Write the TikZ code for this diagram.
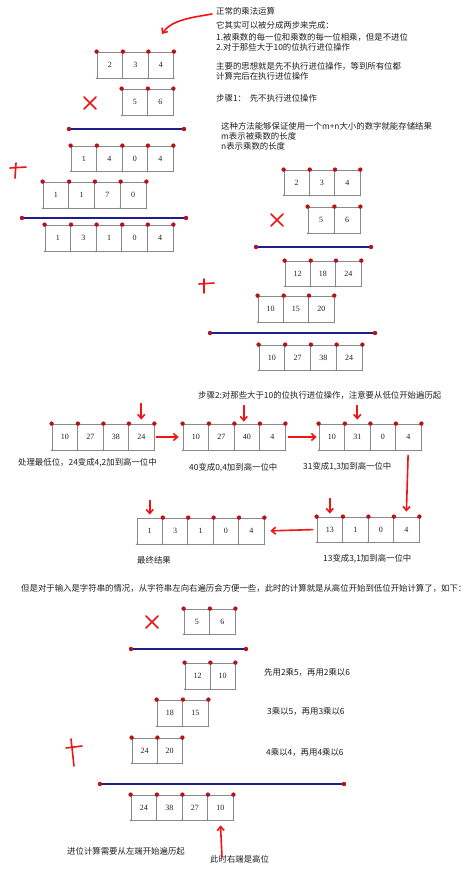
\documentclass[tikz,border=0pt]{standalone}
\usepackage{fontspec}
\setmainfont{Liberation Serif}
\newfontfamily\cjk{Noto Sans CJK SC}
\usetikzlibrary{arrows.meta}
\definecolor{cellgray}{HTML}{8A8A8A}
\definecolor{dotred}{HTML}{B5121B}
\definecolor{lineblue}{HTML}{1E1E8C}
\definecolor{handred}{HTML}{F01414}
\definecolor{txt}{HTML}{202020}
\newif\iffirstdot \firstdottrue
\tikzset{
  cellbox/.style={draw=cellgray, line width=0.8pt, inner sep=0pt, font=\fontsize{8}{9}\selectfont, text=txt},
  txtnode/.style={anchor=west, inner sep=0pt, font=\cjk\fontsize{8.4}{10}\selectfont, text=txt},
  handpen/.style={draw=handred, line width=1.6pt, line cap=round, line join=round},
  handarrow/.style={handpen, -{Straight Barb[length=4pt,width=7pt]}},
  blueline/.style={draw=lineblue, line width=1.5pt},
}
\newcommand\cellrow[6]{%
  \foreach \v [count=\i] in {#6} {
    \node[cellbox, minimum width=#4pt, minimum height=#5pt] (#1-\i) at ({#2+(\i-0.5)*#4},{#3+#5/2}) {\v};
  }
  \foreach \v [count=\i] in {#6} {
    \fill[dotred] (#1-\i.north east) circle (2.2pt);
    \fill[cellgray] (#1-\i.south west) circle (0.9pt);
    \fill[cellgray] (#1-\i.south east) circle (0.9pt);
  }
  \iffirstdot\fill[dotred] (#1-1.north west) circle (2.2pt);\fi
}
\newcommand\bluebar[3]{%
  \coordinate (bl#1) at (#2,#3);
}
\newcommand\sumline[4]{% name, x1, x2, y
  \coordinate (#1a) at (#2,#4);
  \coordinate (#1b) at (#3,#4);
  \draw[blueline] (#1a) -- (#1b);
  \fill[dotred] (#1a) circle (2.2pt);
  \fill[dotred] (#1b) circle (2.2pt);
}
\begin{document}
\begin{tikzpicture}[x=1pt,y=-1pt]
\useasboundingbox (0,0) rectangle (474,895);
\fill[white] (0,0) rectangle (474,895);

% ---------- top-left: normal multiplication ----------
\cellrow{A}{97}{52}{25.5}{26}{2,3,4}
\cellrow{B}{122}{89}{25.5}{26}{5,6}
\draw[handpen] (84,97) -- (96,109) (96,97) -- (84,109);
\sumline{s1}{69}{184}{129}
\cellrow{C}{71}{146}{25.5}{25}{1,4,0,4}
\cellrow{D}{43}{182}{25.75}{26}{1,1,7,0}
\draw[handpen] (10,168) -- (26,167) (16,163) -- (15,178);
\sumline{s2}{22}{186}{218}
\cellrow{E}{45}{225}{25.6}{26}{1,3,1,0,4}

% ---------- explanation text ----------
\node[txtnode] (t0) at (216,11) {正常的乘法运算};
\node[txtnode] (t1) at (216,25) {它其实可以被分成两步来完成：};
\node[txtnode] (t2) at (216,37) {1.被乘数的每一位和乘数的每一位相乘，但是不进位};
\node[txtnode] (t3) at (216,47) {2.对于那些大于10的位执行进位操作};
\node[txtnode] (t4) at (216,66) {主要的思想就是先不执行进位操作，等到所有位都};
\node[txtnode] (t5) at (216,76) {计算完后在执行进位操作};
\node[txtnode] (t6) at (216,98) {步骤1：\ \ 先不执行进位操作};
\node[txtnode] (t7) at (221,126) {这种方法能够保证使用一个m+n大小的数字就能存储结果};
\node[txtnode] (t8) at (221,136) {m表示被乘数的长度};
\node[txtnode] (t9) at (221,146) {n表示乘数的长度};
\coordinate (c0) at (162,34);
\draw[handarrow] (212,14) .. controls (196,17) and (172,19) .. (c0);

% ---------- right: step 1 ----------
\cellrow{F}{284}{170}{25.3}{25}{2,3,4}
\cellrow{G}{308}{207}{26}{26}{5,6}
\draw[handpen] (271,214) -- (283,226) (283,214) -- (271,226);
\sumline{s3}{256}{371}{247}
\cellrow{H}{285}{261}{25.3}{25}{12,18,24}
\cellrow{I}{258}{296}{25.3}{26}{10,15,20}
\draw[handpen] (199,284) -- (214,283) (204,279) -- (204,293);
\sumline{s4}{210}{375}{333}
\cellrow{J}{259}{345}{25.75}{25}{10,27,38,24}

% ---------- step 2: carries ----------
\node[txtnode] (t10) at (198,395) {步骤2:对那些大于10的位执行进位操作，注意要从低位开始遍历起};
\cellrow{K}{52}{424}{25.5}{26}{10,27,38,24}
\cellrow{L}{183}{424}{25.5}{26}{10,27,40,4}
\cellrow{M}{319}{424}{25.5}{26}{10,31,0,4}
\cellrow{N}{317}{517}{25.5}{25}{13,1,0,4}
\firstdotfalse
\cellrow{O}{137}{518}{25.4}{26}{1,3,1,0,4}
\firstdottrue

\draw[handarrow] ([yshift=20pt]K-4.north) -- ([yshift=4pt]K-4.north);
\draw[handarrow] ([xshift=-3pt,yshift=18pt]L-3.north) -- ([xshift=-3pt,yshift=2pt]L-3.north);
\draw[handarrow] ([yshift=18pt]M-2.north) -- ([yshift=4pt]M-2.north);
\draw[handarrow] ([yshift=18pt]N-1.north) -- ([yshift=3pt]N-1.north);
\draw[handarrow] ([yshift=17pt]O-1.north) -- ([yshift=3pt]O-1.north);
\draw[handarrow, shorten <=2pt, shorten >=4pt] (K-4.east) -- (L-1.west);
\draw[handarrow, shorten <=3pt, shorten >=2pt] (L-4.east) -- (M-1.west);
\draw[handarrow, shorten <=5pt, shorten >=5pt] (M-4.south) -- (N-4.north);
\draw[handarrow, shorten <=4pt, shorten >=6pt] (N-1.west) -- (O-5.east);

\node[txtnode] (t11) at (18,463) {处理最低位，24变成4,2加到高一位中};
\node[txtnode] (t12) at (189,468) {40变成0,4加到高一位中};
\node[txtnode] (t13) at (303,467) {31变成1,3加到高一位中};
\node[txtnode] (t14) at (137,560) {最终结果};
\node[txtnode] (t15) at (323,559) {13变成3,1加到高一位中};

% ---------- string-order version ----------
\node[txtnode] (t16) at (21,588) {但是对于输入是字符串的情况，从字符串左向右遍历会方便一些，此时的计算就是从高位开始到低位开始计算了，如下：};
\cellrow{P}{184}{609}{25.5}{25}{5,6}
\draw[handpen] (146,616) -- (158,628) (158,616) -- (146,628);
\sumline{s5}{131}{246}{649}
\cellrow{Q}{185}{663}{25}{26}{12,10}
\cellrow{R}{157}{700}{25.5}{26}{18,15}
\cellrow{S}{132}{738}{25}{25}{24,20}
\draw[handpen] (66,748) -- (82,746) (71,739) -- (74,766);
\sumline{s6}{100}{344}{784}
\cellrow{T}{131}{795}{25.5}{25}{24,38,27,10}

\node[txtnode] (t17) at (264,672) {先用2乘5，再用2乘以6};
\node[txtnode] (t18) at (267,711) {3乘以5，再用3乘以6};
\node[txtnode] (t19) at (266,752) {4乘以4，再用4乘以6};
\node[txtnode] (t20) at (67,851) {进位计算需要从左端开始遍历起};
\node[txtnode] (t21) at (210,859) {此时右端是高位};
\coordinate (up) at (222,857);
\draw[handarrow, shorten >=5pt] (up) -- (T-4.south);
\end{tikzpicture}
\end{document}
